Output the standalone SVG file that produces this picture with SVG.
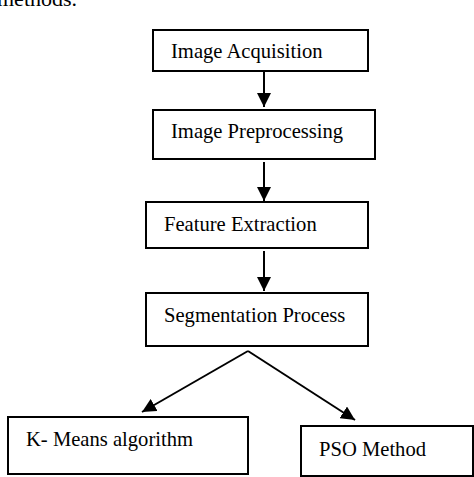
<svg xmlns="http://www.w3.org/2000/svg" width="474" height="477" viewBox="0 0 474 477">
<style>
.box{fill:#fff;stroke:#000;stroke-width:2}
.lbl{font-family:"Liberation Serif","Times New Roman",serif;font-size:20.6px;fill:#000}
.conn{stroke:#000;stroke-width:2;fill:none}
</style>
<defs>
<marker id="ah" viewBox="0 0 14 14" refX="14" refY="7" markerWidth="14" markerHeight="14" markerUnits="userSpaceOnUse" orient="auto">
<path d="M0,0 L14,7 L0,14 Z" fill="#000"/>
</marker>
</defs>
<rect width="474" height="477" fill="#fff"/>
<text class="lbl" x="-3" y="6" style="font-size:22px">methods.</text>
<g id="n1"><rect class="box" x="153" y="30" width="215" height="41"/><text class="lbl" x="171" y="58">Image Acquisition</text></g>
<g id="n2"><rect class="box" x="153" y="110" width="222" height="49"/><text class="lbl" x="171" y="138">Image Preprocessing</text></g>
<g id="n3"><rect class="box" x="146" y="202" width="222" height="46"/><text class="lbl" x="164" y="231">Feature Extraction</text></g>
<g id="n4"><rect class="box" x="146" y="293" width="222" height="53"/><text class="lbl" x="164" y="322">Segmentation Process</text></g>
<g id="n5"><rect class="box" x="8" y="417" width="240" height="57"/><text class="lbl" x="26" y="446">K- Means algorithm</text></g>
<g id="n6"><rect class="box" x="301" y="426" width="172" height="50"/><text class="lbl" x="319" y="456">PSO Method</text></g>
<g id="connectors">
<line class="conn" x1="264" y1="71" x2="264" y2="107" marker-end="url(#ah)"/>
<line class="conn" x1="264" y1="162" x2="264" y2="201" marker-end="url(#ah)"/>
<line class="conn" x1="264" y1="251" x2="264" y2="291" marker-end="url(#ah)"/>
<line class="conn" x1="248" y1="351" x2="142" y2="412" marker-end="url(#ah)"/>
<line class="conn" x1="248" y1="351" x2="355" y2="420" marker-end="url(#ah)"/>
</g>
</svg>
